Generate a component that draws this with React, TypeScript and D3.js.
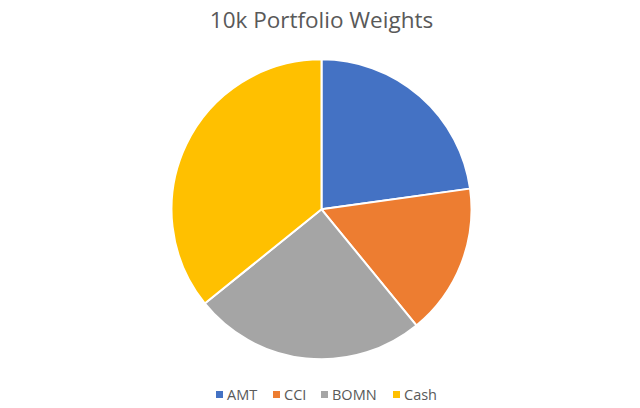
import React, { useEffect, useRef } from 'react';
import * as d3 from 'd3';

const labels = ['AMT', 'CCI', 'BOMN', 'Cash'];
const weights = [22.8, 16.3, 25.1, 35.8];
const colors = ['#4472C4', '#ED7D31', '#A5A5A5', '#FFC000'];

const App: React.FC = () => {
  const ref = useRef<SVGSVGElement>(null);

  useEffect(() => {
    document.body.style.margin = '0';
    if (!ref.current) return;
    const width = 640;
    const height = 408;
    const cx = 321.5;
    const cy = 209.3;
    const radius = 150;

    const svg = d3.select(ref.current);
    svg.selectAll('*').remove();

    svg.append('rect')
      .attr('width', width)
      .attr('height', height)
      .attr('fill', '#ffffff');

    // title
    svg.append('text')
      .attr('x', cx)
      .attr('y', 28)
      .attr('text-anchor', 'middle')
      .style('font-family', '"Open Sans", sans-serif')
      .style('font-size', '22.5px')
      .style('fill', '#595959')
      .text('10k Portfolio Weights');

    const pie = d3.pie<number>().sort(null).value((d) => d);
    const arc = d3.arc<d3.PieArcDatum<number>>().innerRadius(0).outerRadius(radius);

    const g = svg.append('g').attr('transform', `translate(${cx},${cy})`);
    g.selectAll('path')
      .data(pie(weights))
      .enter().append('path')
      .attr('d', arc)
      .attr('fill', (_d, i) => colors[i])
      .attr('stroke', '#ffffff')
      .attr('stroke-width', 2)
      .attr('stroke-linejoin', 'round');

    // legend
    const legendX = [216, 273, 321, 393];
    const legend = svg.append('g');
    const item = legend.selectAll('g')
      .data(labels)
      .enter().append('g')
      .attr('transform', (_d, i) => `translate(${legendX[i]},391)`);

    item.append('rect')
      .attr('width', 7)
      .attr('height', 7)
      .attr('fill', (_d, i) => colors[i]);

    item.append('text')
      .attr('x', 11)
      .attr('y', 8.5)
      .style('font-family', '"Open Sans", sans-serif')
      .style('font-size', '14.5px')
      .style('fill', '#595959')
      .text((d) => d);
  }, []);

  return <svg ref={ref} width={640} height={408} style={{ display: 'block' }} />;
};

export default App;
